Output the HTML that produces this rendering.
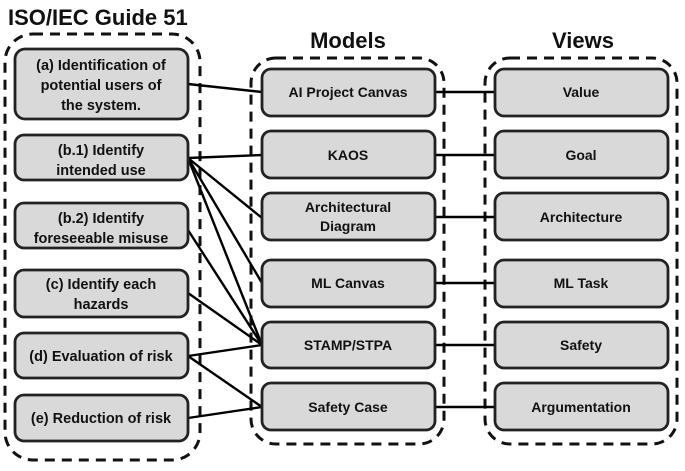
<!DOCTYPE html>
<html><head><meta charset="utf-8"><style>
html,body{margin:0;padding:0;background:#fff;}
svg text{font-family:"Liberation Sans",sans-serif;font-weight:bold;fill:#111;}
</style></head><body>
<svg width="685" height="466" viewBox="0 0 685 466" xmlns="http://www.w3.org/2000/svg">
<g fill="none" stroke="#111" stroke-width="3" stroke-dasharray="10,7">
<rect x="5" y="34" width="195" height="426" rx="28"/>
<rect x="251" y="58" width="193" height="386" rx="25"/>
<rect x="485" y="58" width="192" height="386" rx="25"/>
</g>
<g stroke="#000" stroke-width="2.4">
<line x1="188" y1="84" x2="262" y2="92"/>
<line x1="188" y1="158" x2="262" y2="155"/>
<line x1="188" y1="158" x2="262" y2="218"/>
<line x1="188" y1="158" x2="262" y2="283"/>
<line x1="188" y1="158" x2="262" y2="345"/>
<line x1="188" y1="230" x2="262" y2="345"/>
<line x1="188" y1="293" x2="262" y2="345"/>
<line x1="188" y1="356" x2="262" y2="345"/>
<line x1="188" y1="356" x2="262" y2="407"/>
<line x1="188" y1="418" x2="262" y2="407"/>
<line x1="435" y1="92" x2="495" y2="92"/>
<line x1="435" y1="155" x2="495" y2="155"/>
<line x1="435" y1="217" x2="495" y2="217"/>
<line x1="435" y1="283" x2="495" y2="283"/>
<line x1="435" y1="345" x2="495" y2="345"/>
<line x1="435" y1="407" x2="495" y2="407"/>
</g>
<g fill="#d9d9d9" stroke="#222" stroke-width="2.8">
<rect x="15" y="49" width="173" height="70" rx="10"/>
<rect x="15" y="135" width="173" height="45" rx="9"/>
<rect x="15" y="203" width="173" height="45" rx="9"/>
<rect x="15" y="270" width="173" height="47" rx="9"/>
<rect x="15" y="333" width="173" height="45" rx="9"/>
<rect x="15" y="395" width="173" height="46" rx="9"/>
<rect x="262" y="69" width="173" height="47" rx="9"/>
<rect x="262" y="131" width="173" height="47" rx="9"/>
<rect x="262" y="193" width="173" height="47" rx="9"/>
<rect x="262" y="260" width="173" height="47" rx="9"/>
<rect x="262" y="322" width="173" height="46" rx="9"/>
<rect x="262" y="383" width="173" height="47" rx="9"/>
<rect x="495" y="69" width="173" height="47" rx="9"/>
<rect x="495" y="131" width="173" height="47" rx="9"/>
<rect x="495" y="193" width="173" height="47" rx="9"/>
<rect x="495" y="260" width="173" height="47" rx="9"/>
<rect x="495" y="322" width="173" height="46" rx="9"/>
<rect x="495" y="383" width="173" height="47" rx="9"/>
</g>
<text x="8" y="25" font-size="22">ISO/IEC Guide 51</text>
<text x="348" y="48" font-size="22" text-anchor="middle">Models</text>
<text x="583" y="48" font-size="22" text-anchor="middle">Views</text>
<g font-size="14.5" text-anchor="middle">
<text x="101" y="70">(a) Identification of</text>
<text x="101" y="90">potential users of</text>
<text x="101" y="110">the system.</text>
<text x="101" y="155">(b.1) Identify</text>
<text x="101" y="175">intended use</text>
<text x="101" y="223">(b.2) Identify</text>
<text x="101" y="243">foreseeable misuse</text>
<text x="101" y="289">(c) Identify each</text>
<text x="101" y="309">hazards</text>
<text x="101" y="361">(d) Evaluation of risk</text>
<text x="101" y="423">(e) Reduction of risk</text>
</g>
<g font-size="14" text-anchor="middle">
<text x="348" y="97">AI Project Canvas</text>
<text x="348" y="160">KAOS</text>
<text x="348" y="212">Architectural</text>
<text x="348" y="231">Diagram</text>
<text x="348" y="288">ML Canvas</text>
<text x="348" y="350">STAMP/STPA</text>
<text x="348" y="412">Safety Case</text>
<text x="581" y="97">Value</text>
<text x="581" y="160">Goal</text>
<text x="581" y="222">Architecture</text>
<text x="581" y="288">ML Task</text>
<text x="581" y="350">Safety</text>
<text x="581" y="412">Argumentation</text>
</g>
</svg>
</body></html>
